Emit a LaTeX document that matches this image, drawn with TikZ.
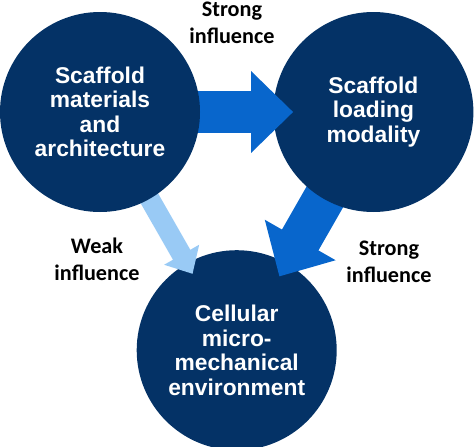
\documentclass[tikz,border=0pt]{standalone}
\usepackage{fontspec}
\setmainfont{Liberation Sans}
\newfontfamily\labelfont{Carlito}
\usepackage{xcolor}
\definecolor{scaffoldnavy}{RGB}{4,50,102}
\definecolor{strongblue}{RGB}{8,102,204}
\definecolor{weakblue}{RGB}{153,202,245}
\usetikzlibrary{arrows.meta,positioning,calc}
\pgfdeclarelayer{bottom}
\pgfdeclarelayer{lower}
\pgfdeclarelayer{middle}
\pgfdeclarelayer{upper}
\pgfsetlayers{bottom,lower,middle,upper,main}

\begin{document}
\begin{tikzpicture}[
    x=1pt, y=-1pt,
    hub/.style={circle, fill=scaffoldnavy, minimum size=200pt, inner sep=0pt, align=center, text=white, font=\fontsize{22.8}{24.5}\selectfont\bfseries},
    tag/.style={align=center, inner sep=0pt, font=\labelfont\fontsize{22.2}{27}\selectfont\bfseries},
    strong/.style={-{Triangle[length=42pt, width=79pt]}, line width=42pt, strongblue},
    weak/.style={-{Triangle[length=22pt, width=39pt]}, line width=20pt, weakblue}
]
\useasboundingbox (0,0) rectangle (474,447);

% Circles
\node[hub] (mat) at (100,112) {Scaffold\\materials\\and\\architecture};
\begin{pgfonlayer}{middle}
\node[hub, right=73pt of mat] (load) {Scaffold\\loading\\modality};
\end{pgfonlayer}
\begin{pgfonlayer}{bottom}
\node[hub, below=138pt of $(mat)!0.5!(load)$] (cell) {Cellular\\micro-\\mechanical\\environment};
\end{pgfonlayer}

% Arrows
\begin{pgfonlayer}{upper}
\draw[strong, shorten >=-20pt] (mat.center) -- (load.west);
\draw[weak, shorten >=-12pt] (mat.center) -- (cell.120);
\end{pgfonlayer}
\begin{pgfonlayer}{lower}
\draw[strong, shorten >=-15pt] (load.center) -- (cell.60);
\end{pgfonlayer}

% Influence labels
\node[tag] (toptag) at (232,23) {Strong\\influence};
\node[tag] (weaktag) at (97,259) {Weak\\influence};
\node[tag] (righttag) at (389,262) {Strong\\influence};
\end{tikzpicture}
\end{document}
